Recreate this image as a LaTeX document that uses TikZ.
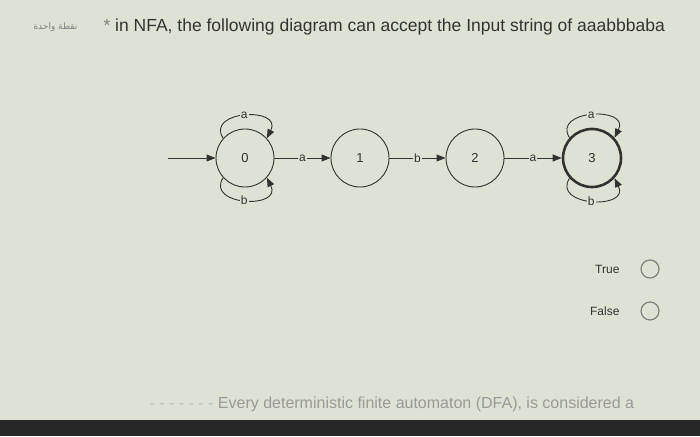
\documentclass[tikz,border=0pt]{standalone}
\usepackage{fontspec}
\setmainfont{Liberation Sans}
\newfontfamily\arabicfont[Script=Arabic]{DejaVu Sans}
\TeXXeTstate=1
\usetikzlibrary{arrows.meta}
\definecolor{bg}{RGB}{222,226,212}
\definecolor{ink}{RGB}{50,50,50}
\begin{document}
\begin{tikzpicture}[x=1pt,y=1pt,
  st/.style={circle,draw=ink,line width=0.9pt,minimum size=58pt,inner sep=0pt,font=\fontsize{13}{13}\selectfont,text=ink},
  acc/.style={st,line width=2.6pt},
  tr/.style={draw=ink,line width=0.9pt,-{Triangle[length=9pt,width=7pt]}},
  lab/.style={fill=bg,inner sep=1pt,font=\fontsize{12}{12}\selectfont,text=ink}]
\fill[bg] (0,0) rectangle (700,436);
\fill[black!85] (0,0) rectangle (700,16);
\node[anchor=west,font=\fontsize{9}{9}\selectfont,text=gray] (ar) at (30,409) {\arabicfont\beginR نقطة واحدة\endR};
\node[anchor=west,font=\fontsize{17.5}{17.5}\selectfont,text=black!80] (title) at (100,409) {{\color{gray}*} in NFA, the following diagram can accept the Input string of aaabbbaba};
\node[st] (q0) at (245,278) {0};
\node[st] (q1) at (360,278) {1};
\node[st] (q2) at (475,278) {2};
\node[acc] (q3) at (592,278) {3};
\coordinate (start) at (168,278);
\draw[tr] (start) -- (q0);
\draw[tr] (q0) -- node[lab]{a} (q1);
\draw[tr] (q1) -- node[lab]{b} (q2);
\draw[tr] (q2) -- node[lab]{a} (q3);
\foreach \q in {q0,q3}{
  \draw[tr] (\q.138) .. controls ([shift={(-18,28)}]\q.138) and ([shift={(16,32)}]\q.42) .. node[lab,pos=0.5]{a} (\q.42);
  \draw[tr] (\q.222) .. controls ([shift={(-18,-28)}]\q.222) and ([shift={(16,-32)}]\q.318) .. node[lab,pos=0.5]{b} (\q.318);
}
\node[anchor=east,font=\fontsize{12}{12}\selectfont,text=ink] (t) at (623,167) {True};
\node[circle,draw=gray,line width=1.2pt,minimum size=18pt] (rt) at (650,167) {};
\node[anchor=east,font=\fontsize{12}{12}\selectfont,text=ink] (f) at (623,125) {False};
\node[circle,draw=gray,line width=1.2pt,minimum size=18pt] (rf) at (650,125) {};
\node[anchor=west,font=\fontsize{16}{16}\selectfont,text=gray!80] (bt) at (146,32) {{\color{gray!50}- - - - - - -} Every deterministic finite automaton (DFA), is considered a};
\end{tikzpicture}
\end{document}
